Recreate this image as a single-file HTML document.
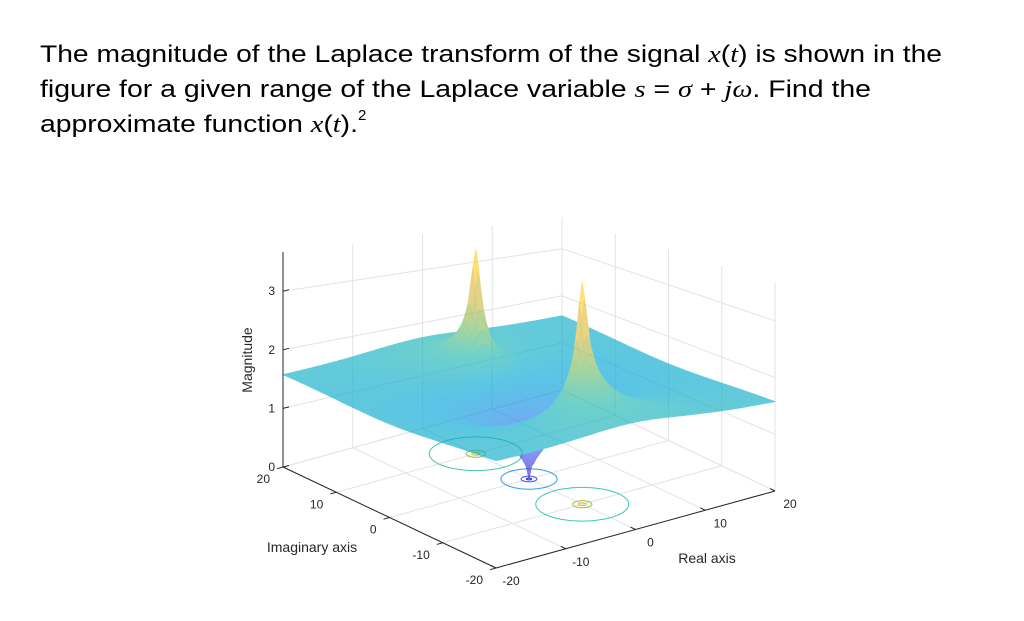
<!DOCTYPE html>
<html><head><meta charset="utf-8"><style>
html,body{margin:0;padding:0;background:#fff;}
svg{display:block;}
</style></head><body>
<svg id="fig" width="1024" height="621" viewBox="0 0 1024 621" xmlns="http://www.w3.org/2000/svg">
<g font-family="'Liberation Sans', 'DejaVu Sans', sans-serif" font-size="24" fill="#000">
<text x="40" y="62" textLength="902" lengthAdjust="spacingAndGlyphs">The magnitude of the Laplace transform of the signal <tspan font-family="'Liberation Serif', serif" font-style="italic">x</tspan>(<tspan font-family="'Liberation Serif', serif" font-style="italic">t</tspan>) is shown in the</text>
<text x="40" y="97" textLength="831" lengthAdjust="spacingAndGlyphs">figure for a given range of the Laplace variable <tspan font-family="'Liberation Serif', serif" font-style="italic">s</tspan> = <tspan font-family="'Liberation Serif', serif" font-style="italic">σ</tspan> + <tspan font-family="'Liberation Serif', serif" font-style="italic">jω</tspan>. Find the</text>
<text x="40" y="132" textLength="318" lengthAdjust="spacingAndGlyphs">approximate function <tspan font-family="'Liberation Serif', serif" font-style="italic">x</tspan>(<tspan font-family="'Liberation Serif', serif" font-style="italic">t</tspan>).</text>
<text x="358" y="120" font-size="15">2</text>
</g>
<g id="grid"></g>
<g id="contours"></g>
<g id="surf" opacity="0.66"></g>
<g id="axes"></g>
<g id="labels" font-family="'Liberation Sans', sans-serif" font-size="12" fill="#262626"></g>
<text x="0" y="0" transform="translate(252,360) rotate(-90)" text-anchor="middle" font-family="'Liberation Sans', sans-serif" font-size="14" fill="#262626">Magnitude</text>
<text x="312" y="552" text-anchor="middle" font-family="'Liberation Sans', sans-serif" font-size="14" fill="#262626">Imaginary axis</text>
<text x="707" y="563" text-anchor="middle" font-family="'Liberation Sans', sans-serif" font-size="14" fill="#262626">Real axis</text>
</svg>
<script>
// ---- data ----
const poleRe = [0, 0];
const poleIm = [10, -10];
const zeroRe = [0, 0];
const zeroIm = [0, 0];
const gain = [1.58];
const magExponent = [0.3];
const zClip = [3.7];
const realTicks = [-20, -10, 0, 10, 20];
const imagTicks = [-20, -10, 0, 10, 20];
const zTicks = [0, 1, 2, 3];
const realTickLabels = ["-20", "-10", "0", "10", "20"];
const imagTickLabels = ["-20", "-10", "0", "10", "20"];
const zTickLabels = ["0", "1", "2", "3"];
const poleContourR = [5.3, 1.1, 0.45];
const zeroContourR = [3.2, 0.9, 0.3];

const NS = "http://www.w3.org/2000/svg";
const CF = [496,568], CR = [775,491], CL = [283,467], CB = [562,390];
const KF = 68, KR = 56.7, KL = 58.6, KB = 47.1;
const ZTOP = 3.67;
function proj(re, im, z) {
  const u = (re + 20) / 40, v = (im + 20) / 40;
  const a = (1-u)*(1-v), b = u*(1-v), c = (1-u)*v, d = u*v;
  const x = CF[0]*a + CR[0]*b + CL[0]*c + CB[0]*d;
  const y = CF[1]*a + CR[1]*b + CL[1]*c + CB[1]*d;
  const k = KF*a + KR*b + KL*c + KB*d;
  return [x, y - z*k];
}
function mag(re, im) {
  let m = 1;
  for (let i = 0; i < zeroRe.length; i++) m *= Math.hypot(re - zeroRe[i], im - zeroIm[i]);
  for (let i = 0; i < poleRe.length; i++) {
    const d = Math.hypot(re - poleRe[i], im - poleIm[i]);
    m = d < 1e-9 ? Infinity : m / d;
  }
  return Math.min(gain[0] * Math.pow(m, magExponent[0]), zClip[0]);
}
const P = [[0,[0.2422,0.1504,0.6603]],[0.125,[0.28,0.33,0.96]],[0.25,[0.12,0.55,0.91]],[0.375,[0.03,0.66,0.85]],[0.5,[0.15,0.73,0.69]],[0.625,[0.48,0.75,0.42]],[0.75,[0.80,0.73,0.28]],[0.875,[0.99,0.76,0.24]],[1,[0.98,0.98,0.05]]];
function parula(t) {
  t = Math.max(0, Math.min(1, t));
  for (let i = 1; i < P.length; i++) if (t <= P[i][0]) {
    const f = (t - P[i-1][0]) / (P[i][0] - P[i-1][0]);
    const c = P[i-1][1].map((v, j) => Math.round(255*(v + f*(P[i][1][j]-v))));
    return `rgb(${c[0]},${c[1]},${c[2]})`;
  }
  return "rgb(249,250,13)";
}
function line(g, p, q, color, w, name) {
  const l = document.createElementNS(NS, "line");
  l.setAttribute("x1", p[0]); l.setAttribute("y1", p[1]);
  l.setAttribute("x2", q[0]); l.setAttribute("y2", q[1]);
  l.setAttribute("stroke", color); l.setAttribute("stroke-width", w);
  
  
  g.appendChild(l);
}
function label(g, x, y, s, anchor, name) {
  const t = document.createElementNS(NS, "text");
  t.setAttribute("x", x); t.setAttribute("y", y);
  t.setAttribute("text-anchor", anchor);
  t.textContent = s;
  
  
  g.appendChild(t);
}
const grid = document.getElementById("grid");
const GC = "#e3e3e3";
for (const z of zTicks) {
  line(grid, proj(-20,20,z), proj(20,20,z), GC, 1, "back-wall-gridline");
  line(grid, proj(20,20,z), proj(20,-20,z), GC, 1, "side-wall-gridline");
}
for (const r of realTicks) line(grid, proj(r,20,0), proj(r,20,ZTOP), GC, 1, "back-wall-vertical-gridline");
for (const m of imagTicks) line(grid, proj(20,m,0), proj(20,m,ZTOP), GC, 1, "side-wall-vertical-gridline");
for (const r of realTicks) line(grid, proj(r,-20,0), proj(r,20,0), GC, 1, "floor-gridline-real");
for (const m of imagTicks) line(grid, proj(-20,m,0), proj(20,m,0), GC, 1, "floor-gridline-imag");
const cont = document.getElementById("contours");
function circle(cre, cim, r, color, name) {
  let pts = [];
  for (let i = 0; i <= 72; i++) {
    const a = i/72*2*Math.PI;
    pts.push(proj(cre + r*Math.cos(a), cim + r*Math.sin(a), 0).map(v => v.toFixed(1)).join(","));
  }
  const pl = document.createElementNS(NS, "polyline");
  pl.setAttribute("points", pts.join(" "));
  pl.setAttribute("fill", "none"); pl.setAttribute("stroke", color); pl.setAttribute("stroke-width", 1);
  
  
  cont.appendChild(pl);
}
const poleCols = ["#3cc8b4", "#8cc63f", "#f0b030"];
const zeroCols = ["#2e9cec", "#3458f0", "#3a20c0"];
for (let i = 0; i < poleRe.length; i++) poleContourR.forEach((r, j) => circle(poleRe[i], poleIm[i], r, poleCols[j], "pole-contour"));
for (let i = 0; i < 1; i++) zeroContourR.forEach((r, j) => circle(zeroRe[i], zeroIm[i], r, zeroCols[j], "zero-contour"));
const surf = document.getElementById("surf");
const N = 100, step = 40 / N;
const Z = [];
for (let i = 0; i <= N; i++) { Z.push([]); for (let j = 0; j <= N; j++) Z[i].push(mag(-20 + i*step, -20 + j*step)); }
const cells = [];
for (let i = 0; i < N; i++) for (let j = 0; j < N; j++) cells.push([i, j]);
cells.sort((a, b) => (b[0] + b[1]) - (a[0] + a[1]));
for (const [i, j] of cells) {
  const r0 = -20 + i*step, m0 = -20 + j*step;
  const q = [proj(r0, m0, Z[i][j]), proj(r0+step, m0, Z[i+1][j]), proj(r0+step, m0+step, Z[i+1][j+1]), proj(r0, m0+step, Z[i][j+1])];
  const zAvg = (Z[i][j] + Z[i+1][j] + Z[i+1][j+1] + Z[i][j+1]) / 4;
  const col = parula(zAvg / zClip[0]);
  const pg = document.createElementNS(NS, "polygon");
  pg.setAttribute("points", q.map(p => p[0].toFixed(1) + "," + p[1].toFixed(1)).join(" "));
  pg.setAttribute("fill", col); pg.setAttribute("stroke", col); pg.setAttribute("stroke-width", 0.7);
  
  
  surf.appendChild(pg);
}
const axes = document.getElementById("axes");
const AC = "#262626";
line(axes, proj(-20,20,0), proj(-20,20,ZTOP), AC, 1, "z-axis-line");
line(axes, proj(-20,20,0), proj(-20,-20,0), AC, 1, "imaginary-axis-line");
line(axes, proj(-20,-20,0), proj(20,-20,0), AC, 1, "real-axis-line");
const labels = document.getElementById("labels");
zTicks.forEach((z, i) => {
  const p = proj(-20,20,z);
  line(axes, p, [p[0]+6, p[1]-1.5], AC, 1, "z-tick");
  label(labels, p[0]-8, p[1]+4, zTickLabels[i], "end", "z-tick-label");
});
imagTicks.forEach((m, i) => {
  const p = proj(-20,m,0);
  line(axes, p, [p[0]-6, p[1]+1.7], AC, 1, "imag-tick");
  label(labels, p[0]-13, p[1]+16, imagTickLabels[i], "end", "imag-tick-label");
});
realTicks.forEach((r, i) => {
  const p = proj(r,-20,0);
  line(axes, p, [p[0]-5, p[1]-2.4], AC, 1, "real-tick");
  label(labels, p[0]+15, p[1]+17, realTickLabels[i], "middle", "real-tick-label");
});
</script>
</body></html>
